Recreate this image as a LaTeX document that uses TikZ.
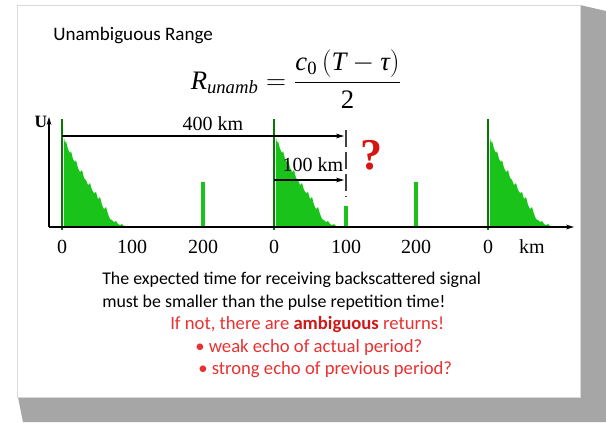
\documentclass[tikz,border=0pt]{standalone}
\usepackage{fontspec}
\usepackage{amsmath}
\setmainfont{Liberation Serif}
\newfontfamily\calib{Carlito}
\usetikzlibrary{arrows.meta}
\definecolor{shadowgray}{RGB}{166,166,166}
\definecolor{pulsegreen}{RGB}{0,125,0}
\definecolor{echogreen}{RGB}{25,195,25}
\definecolor{txtred}{RGB}{232,50,50}
\definecolor{boldred}{RGB}{205,25,25}
\definecolor{qred}{RGB}{215,20,20}
\begin{document}
\begin{tikzpicture}[x=0.75pt,y=-0.75pt,
  plotlbl/.style={font=\fontsize{15}{18}\selectfont, inner sep=0pt},
  bodytxt/.style={font=\calib\fontsize{13.4}{16}\selectfont, inner sep=0pt, anchor=base west},
  redtxt/.style={font=\calib\fontsize{14}{16}\selectfont, inner sep=0pt, anchor=base west, text=txtred},
  dimarrow/.style={draw=black, line width=0.8pt, -{Stealth[length=6pt,width=3.6pt]}},
  axisline/.style={draw=black, line width=0.9pt, -{Stealth[length=6pt,width=3.6pt]}},
  pulseline/.style={draw=pulsegreen, line width=1.9pt},
  echobar/.style={draw=echogreen, line width=2.3pt},
  markline/.style={draw=black!75, line width=0.8pt, dash pattern=on 13pt off 3.5pt}]
\useasboundingbox (0,0) rectangle (606,422);
\fill[white] (0,0) rectangle (606,422);
% slide shadow and page
\fill[shadowgray] (580,5) -- (606,11) -- (606,422) -- (23,422) -- (18,397) -- (580,397) -- cycle;
\draw[black!15, line width=0.5pt, fill=white] (17,5) rectangle (580,397);

% title and formula
\node[font=\calib\fontsize{14.3}{17}\selectfont, inner sep=0pt, anchor=base west] (title) at (53,40) {Unambiguous Range};
\node[font=\fontsize{20}{24}\selectfont, inner sep=0pt] (formula) at (296,79)
  {$\textit{R}_{\textit{unamb}} = \dfrac{\textit{c}_{\text{0}}\left(\textit{T}-\textit{τ}\right)}{\text{2}}$};

% echoes (decaying returns)
\foreach \px in {62,274,488}{
  \begin{scope}[shift={(\px,0)}]
    \fill[echogreen] (2,227) -- (2,138) -- (3,143) -- (4,141) -- (6,149) -- (8,153) -- (9,151) -- (11,159)
      -- (13,162) -- (14,160) -- (16,168) -- (18,172) -- (20,170) -- (22,178) -- (24,180) -- (26,185)
      -- (28,183) -- (30,190) -- (32,193) -- (34,192) -- (36,199) -- (38,197) -- (40,205) -- (42,209)
      -- (44,207) -- (46,214) -- (48,219) -- (50,220) -- (52,222) -- (54,221) -- (56,224) -- (58,225)
      -- (60,224) -- (62,226) -- (64,227) -- cycle;
  \end{scope}
}

% pulses
\coordinate (p1b) at (62,230); \coordinate (p1t) at (62,119);
\coordinate (p2b) at (274,230); \coordinate (p2t) at (274,119);
\coordinate (p3b) at (488,230); \coordinate (p3t) at (488,119);
\draw[pulseline] (p1b) -- (p1t);
\draw[pulseline] (p2b) -- (p2t);
\draw[pulseline] (p3b) -- (p3t);

% small echoes
\coordinate (e1b) at (203,227); \coordinate (e1t) at (203,182);
\coordinate (e2b) at (346,227); \coordinate (e2t) at (346,206);
\coordinate (e3b) at (416,227); \coordinate (e3t) at (416,182);
\draw[echobar] (e1b) -- (e1t);
\draw[echobar] (e2b) -- (e2t);
\draw[echobar] (e3b) -- (e3t);

% axes
\coordinate (origin) at (49,227);
\coordinate (yend) at (49,117);
\coordinate (xend) at (574,227);
\draw[axisline] (origin) -- (yend);
\draw[axisline] (origin) -- (xend);
\node[font=\bfseries\fontsize{13}{15}\selectfont, inner sep=0pt] (U) at (41,122) {U};

% tick labels
\node[plotlbl, anchor=base] (t0a) at (62,253) {0};
\node[plotlbl, anchor=base] (t100a) at (132,253) {100};
\node[plotlbl, anchor=base] (t200a) at (203,253) {200};
\node[plotlbl, anchor=base] (t0b) at (274,253) {0};
\node[plotlbl, anchor=base] (t100b) at (346,253) {100};
\node[plotlbl, anchor=base] (t200b) at (416,253) {200};
\node[plotlbl, anchor=base] (t0c) at (488,253) {0};
\node[plotlbl, anchor=base] (km) at (532,253) {km};

% range markers
\coordinate (m1) at (346,130); \coordinate (m2) at (346,197);
\draw[markline] (m1) -- (m2);
\coordinate (a400s) at (62,136); \coordinate (a400e) at (344,136);
\draw[dimarrow] (a400s) -- (a400e);
\node[plotlbl] (l400) at (213,124) {400 km};
\coordinate (a100s) at (274,180); \coordinate (a100e) at (344,180);
\draw[dimarrow] (a100s) -- (a100e);
\node[plotlbl] (l100) at (313,165) {100 km};
\node[font=\bfseries\fontsize{33}{33}\selectfont, text=qred, inner sep=0pt] (q) at (371,155) {?};

% explanatory text
\node[bodytxt] (line1) at (102,284) {The expected time for receiving backscattered signal};
\node[bodytxt] (line2) at (102,307) {must be smaller than the pulse repetition time!};
\node[redtxt] (line3) at (170,329) {If not, there are {\bfseries\color{boldred}ambiguous} returns!};
\node[redtxt] (line4) at (195,352) {• weak echo of actual period?};
\node[redtxt] (line5) at (198,374) {• strong echo of previous period?};
\end{tikzpicture}
\end{document}
